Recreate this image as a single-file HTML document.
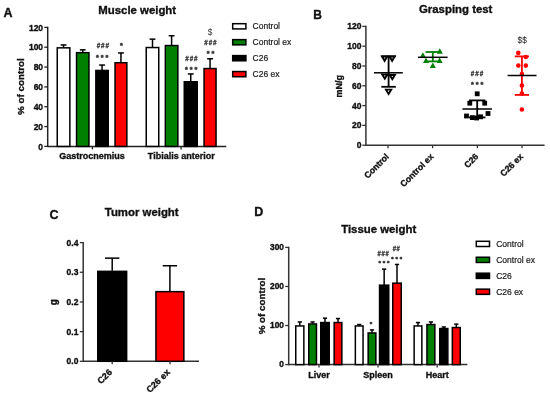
<!DOCTYPE html>
<html><head><meta charset="utf-8"><title>Figure</title>
<style>
html,body{margin:0;padding:0;background:#fff;}
body{width:550px;height:395px;overflow:hidden;}
svg{display:block;font-family:"Liberation Sans", Arial, sans-serif;filter:blur(0.45px);}
</style></head><body>
<svg width="550" height="395" viewBox="0 0 550 395">
<rect width="550" height="395" fill="#fff"/>
<text x="3.50" y="17.30" font-size="12.5" font-weight="bold" text-anchor="start" fill="#111" stroke="#111" stroke-width="0.35">A</text>
<text x="137.20" y="14.00" font-size="11.4" font-weight="bold" text-anchor="middle" fill="#111" stroke="#111" stroke-width="0.35">Muscle weight</text>
<line x1="47.70" y1="26.70" x2="47.70" y2="147.10" stroke="#222" stroke-width="1.5"/>
<line x1="44.30" y1="146.40" x2="47.70" y2="146.40" stroke="#222" stroke-width="1.3"/>
<text x="43.10" y="149.50" font-size="8.5" font-weight="bold" text-anchor="end" fill="#111" stroke="#111" stroke-width="0.35">0</text>
<line x1="44.30" y1="126.57" x2="47.70" y2="126.57" stroke="#222" stroke-width="1.3"/>
<text x="43.10" y="129.67" font-size="8.5" font-weight="bold" text-anchor="end" fill="#111" stroke="#111" stroke-width="0.35">20</text>
<line x1="44.30" y1="106.73" x2="47.70" y2="106.73" stroke="#222" stroke-width="1.3"/>
<text x="43.10" y="109.83" font-size="8.5" font-weight="bold" text-anchor="end" fill="#111" stroke="#111" stroke-width="0.35">40</text>
<line x1="44.30" y1="86.90" x2="47.70" y2="86.90" stroke="#222" stroke-width="1.3"/>
<text x="43.10" y="90.00" font-size="8.5" font-weight="bold" text-anchor="end" fill="#111" stroke="#111" stroke-width="0.35">60</text>
<line x1="44.30" y1="67.07" x2="47.70" y2="67.07" stroke="#222" stroke-width="1.3"/>
<text x="43.10" y="70.17" font-size="8.5" font-weight="bold" text-anchor="end" fill="#111" stroke="#111" stroke-width="0.35">80</text>
<line x1="44.30" y1="47.23" x2="47.70" y2="47.23" stroke="#222" stroke-width="1.3"/>
<text x="43.10" y="50.33" font-size="8.5" font-weight="bold" text-anchor="end" fill="#111" stroke="#111" stroke-width="0.35">100</text>
<line x1="44.30" y1="27.40" x2="47.70" y2="27.40" stroke="#222" stroke-width="1.3"/>
<text x="43.10" y="30.50" font-size="8.5" font-weight="bold" text-anchor="end" fill="#111" stroke="#111" stroke-width="0.35">120</text>
<text x="24.00" y="86.60" font-size="9.8" font-weight="bold" text-anchor="middle" fill="#111" stroke="#111" stroke-width="0.35" transform="rotate(-90 24.0 86.6)">% of control</text>
<line x1="47.70" y1="146.40" x2="226.30" y2="146.40" stroke="#222" stroke-width="1.5"/>
<line x1="92.40" y1="146.40" x2="92.40" y2="149.40" stroke="#222" stroke-width="1.3"/>
<line x1="181.10" y1="146.40" x2="181.10" y2="149.40" stroke="#222" stroke-width="1.3"/>
<text x="92.00" y="159.20" font-size="9" font-weight="bold" text-anchor="middle" fill="#111" stroke="#111" stroke-width="0.35">Gastrocnemius</text>
<text x="181.30" y="159.20" font-size="9" font-weight="bold" text-anchor="middle" fill="#111" stroke="#111" stroke-width="0.35">Tibialis anterior</text>
<line x1="63.55" y1="47.70" x2="63.55" y2="44.95" stroke="#000" stroke-width="1.5"/>
<line x1="60.65" y1="44.95" x2="66.45" y2="44.95" stroke="#000" stroke-width="1.5"/>
<rect x="57.25" y="47.85" width="12.60" height="98.55" fill="#fff" stroke="#000" stroke-width="1.5"/>
<line x1="82.75" y1="52.50" x2="82.75" y2="49.85" stroke="#000" stroke-width="1.5"/>
<line x1="79.85" y1="49.85" x2="85.65" y2="49.85" stroke="#000" stroke-width="1.5"/>
<rect x="76.55" y="52.65" width="12.40" height="93.75" fill="#008000" stroke="#000" stroke-width="1.5"/>
<line x1="102.05" y1="70.30" x2="102.05" y2="65.05" stroke="#000" stroke-width="1.5"/>
<line x1="99.15" y1="65.05" x2="104.95" y2="65.05" stroke="#000" stroke-width="1.5"/>
<rect x="95.85" y="70.45" width="12.40" height="75.95" fill="#000" stroke="#000" stroke-width="1.5"/>
<line x1="120.95" y1="62.60" x2="120.95" y2="52.95" stroke="#000" stroke-width="1.5"/>
<line x1="118.05" y1="52.95" x2="123.85" y2="52.95" stroke="#000" stroke-width="1.5"/>
<rect x="115.05" y="62.75" width="11.80" height="83.65" fill="#ff0000" stroke="#000" stroke-width="1.5"/>
<line x1="152.50" y1="47.40" x2="152.50" y2="39.15" stroke="#000" stroke-width="1.5"/>
<line x1="149.60" y1="39.15" x2="155.40" y2="39.15" stroke="#000" stroke-width="1.5"/>
<rect x="146.25" y="47.55" width="12.50" height="98.85" fill="#fff" stroke="#000" stroke-width="1.5"/>
<line x1="171.60" y1="45.40" x2="171.60" y2="35.75" stroke="#000" stroke-width="1.5"/>
<line x1="168.70" y1="35.75" x2="174.50" y2="35.75" stroke="#000" stroke-width="1.5"/>
<rect x="165.35" y="45.55" width="12.50" height="100.85" fill="#008000" stroke="#000" stroke-width="1.5"/>
<line x1="190.75" y1="81.60" x2="190.75" y2="73.95" stroke="#000" stroke-width="1.5"/>
<line x1="187.85" y1="73.95" x2="193.65" y2="73.95" stroke="#000" stroke-width="1.5"/>
<rect x="184.25" y="81.75" width="13.00" height="64.65" fill="#000" stroke="#000" stroke-width="1.5"/>
<line x1="210.05" y1="68.40" x2="210.05" y2="58.75" stroke="#000" stroke-width="1.5"/>
<line x1="207.15" y1="58.75" x2="212.95" y2="58.75" stroke="#000" stroke-width="1.5"/>
<rect x="204.05" y="68.55" width="12.00" height="77.85" fill="#ff0000" stroke="#000" stroke-width="1.5"/>
<text x="0" y="0" font-size="7.8" font-weight="bold" text-anchor="middle" fill="#222" stroke="#222" stroke-width="0.25" transform="translate(98.40 48.10) scale(0.8 1)">#</text>
<text x="0" y="0" font-size="7.8" font-weight="bold" text-anchor="middle" fill="#222" stroke="#222" stroke-width="0.25" transform="translate(102.80 48.10) scale(0.8 1)">#</text>
<text x="0" y="0" font-size="7.8" font-weight="bold" text-anchor="middle" fill="#222" stroke="#222" stroke-width="0.25" transform="translate(107.20 48.10) scale(0.8 1)">#</text>
<text x="97.40" y="60.27" font-size="7.2" font-weight="bold" text-anchor="middle" fill="#333" stroke="#333" stroke-width="0.45">*</text>
<text x="102.10" y="60.27" font-size="7.2" font-weight="bold" text-anchor="middle" fill="#333" stroke="#333" stroke-width="0.45">*</text>
<text x="106.80" y="60.27" font-size="7.2" font-weight="bold" text-anchor="middle" fill="#333" stroke="#333" stroke-width="0.45">*</text>
<text x="121.50" y="48.07" font-size="7.2" font-weight="bold" text-anchor="middle" fill="#333" stroke="#333" stroke-width="0.45">*</text>
<text x="0" y="0" font-size="7.8" font-weight="bold" text-anchor="middle" fill="#222" stroke="#222" stroke-width="0.25" transform="translate(187.00 60.90) scale(0.8 1)">#</text>
<text x="0" y="0" font-size="7.8" font-weight="bold" text-anchor="middle" fill="#222" stroke="#222" stroke-width="0.25" transform="translate(191.40 60.90) scale(0.8 1)">#</text>
<text x="0" y="0" font-size="7.8" font-weight="bold" text-anchor="middle" fill="#222" stroke="#222" stroke-width="0.25" transform="translate(195.80 60.90) scale(0.8 1)">#</text>
<text x="186.40" y="71.77" font-size="7.2" font-weight="bold" text-anchor="middle" fill="#333" stroke="#333" stroke-width="0.45">*</text>
<text x="191.10" y="71.77" font-size="7.2" font-weight="bold" text-anchor="middle" fill="#333" stroke="#333" stroke-width="0.45">*</text>
<text x="195.80" y="71.77" font-size="7.2" font-weight="bold" text-anchor="middle" fill="#333" stroke="#333" stroke-width="0.45">*</text>
<text x="210.10" y="34.80" font-size="8.4" font-weight="normal" text-anchor="middle" fill="#333">$</text>
<text x="0" y="0" font-size="7.8" font-weight="bold" text-anchor="middle" fill="#222" stroke="#222" stroke-width="0.25" transform="translate(206.00 45.00) scale(0.8 1)">#</text>
<text x="0" y="0" font-size="7.8" font-weight="bold" text-anchor="middle" fill="#222" stroke="#222" stroke-width="0.25" transform="translate(210.40 45.00) scale(0.8 1)">#</text>
<text x="0" y="0" font-size="7.8" font-weight="bold" text-anchor="middle" fill="#222" stroke="#222" stroke-width="0.25" transform="translate(214.80 45.00) scale(0.8 1)">#</text>
<text x="208.10" y="56.17" font-size="7.2" font-weight="bold" text-anchor="middle" fill="#333" stroke="#333" stroke-width="0.45">*</text>
<text x="212.80" y="56.17" font-size="7.2" font-weight="bold" text-anchor="middle" fill="#333" stroke="#333" stroke-width="0.45">*</text>
<rect x="232.70" y="23.70" width="13.2" height="5.2" fill="#fff" stroke="#000" stroke-width="1.5"/>
<text x="252.60" y="29.40" font-size="8.5" font-weight="normal" text-anchor="start" fill="#1a1a1a" stroke="#1a1a1a" stroke-width="0.2">Control</text>
<rect x="232.70" y="39.65" width="13.2" height="5.2" fill="#008000" stroke="#000" stroke-width="1.5"/>
<text x="252.60" y="45.35" font-size="8.5" font-weight="normal" text-anchor="start" fill="#1a1a1a" stroke="#1a1a1a" stroke-width="0.2">Control ex</text>
<rect x="232.70" y="55.60" width="13.2" height="5.2" fill="#000" stroke="#000" stroke-width="1.5"/>
<text x="252.60" y="61.30" font-size="8.5" font-weight="normal" text-anchor="start" fill="#1a1a1a" stroke="#1a1a1a" stroke-width="0.2">C26</text>
<rect x="232.70" y="71.55" width="13.2" height="5.2" fill="#ff0000" stroke="#000" stroke-width="1.5"/>
<text x="252.60" y="77.25" font-size="8.5" font-weight="normal" text-anchor="start" fill="#1a1a1a" stroke="#1a1a1a" stroke-width="0.2">C26 ex</text>
<text x="313.30" y="19.00" font-size="12.0" font-weight="bold" text-anchor="start" fill="#111" stroke="#111" stroke-width="0.35">B</text>
<text x="455.70" y="12.50" font-size="11.4" font-weight="bold" text-anchor="middle" fill="#111" stroke="#111" stroke-width="0.35">Grasping test</text>
<line x1="365.90" y1="25.70" x2="365.90" y2="145.90" stroke="#333" stroke-width="1.5"/>
<line x1="362.30" y1="145.20" x2="365.90" y2="145.20" stroke="#333" stroke-width="1.3"/>
<text x="361.40" y="148.20" font-size="8.5" font-weight="bold" text-anchor="end" fill="#111" stroke="#111" stroke-width="0.35">0</text>
<line x1="362.30" y1="125.40" x2="365.90" y2="125.40" stroke="#333" stroke-width="1.3"/>
<text x="361.40" y="128.40" font-size="8.5" font-weight="bold" text-anchor="end" fill="#111" stroke="#111" stroke-width="0.35">20</text>
<line x1="362.30" y1="105.60" x2="365.90" y2="105.60" stroke="#333" stroke-width="1.3"/>
<text x="361.40" y="108.60" font-size="8.5" font-weight="bold" text-anchor="end" fill="#111" stroke="#111" stroke-width="0.35">40</text>
<line x1="362.30" y1="85.80" x2="365.90" y2="85.80" stroke="#333" stroke-width="1.3"/>
<text x="361.40" y="88.80" font-size="8.5" font-weight="bold" text-anchor="end" fill="#111" stroke="#111" stroke-width="0.35">60</text>
<line x1="362.30" y1="66.00" x2="365.90" y2="66.00" stroke="#333" stroke-width="1.3"/>
<text x="361.40" y="69.00" font-size="8.5" font-weight="bold" text-anchor="end" fill="#111" stroke="#111" stroke-width="0.35">80</text>
<line x1="362.30" y1="46.20" x2="365.90" y2="46.20" stroke="#333" stroke-width="1.3"/>
<text x="361.40" y="49.20" font-size="8.5" font-weight="bold" text-anchor="end" fill="#111" stroke="#111" stroke-width="0.35">100</text>
<line x1="362.30" y1="26.40" x2="365.90" y2="26.40" stroke="#333" stroke-width="1.3"/>
<text x="361.40" y="29.40" font-size="8.5" font-weight="bold" text-anchor="end" fill="#111" stroke="#111" stroke-width="0.35">120</text>
<text x="342.30" y="86.30" font-size="9" font-weight="bold" text-anchor="middle" fill="#111" stroke="#111" stroke-width="0.35" transform="rotate(-90 342.3 86.3)">mN/g</text>
<line x1="365.90" y1="145.20" x2="544.60" y2="145.20" stroke="#333" stroke-width="1.5"/>
<line x1="388.00" y1="145.20" x2="388.00" y2="148.20" stroke="#333" stroke-width="1.3"/>
<text x="389.60" y="157.20" font-size="8.7" font-weight="bold" text-anchor="end" fill="#111" stroke="#111" stroke-width="0.35" transform="rotate(-45 389.6 157.2)">Control</text>
<line x1="432.60" y1="145.20" x2="432.60" y2="148.20" stroke="#333" stroke-width="1.3"/>
<text x="434.20" y="157.20" font-size="8.7" font-weight="bold" text-anchor="end" fill="#111" stroke="#111" stroke-width="0.35" transform="rotate(-45 434.20000000000005 157.2)">Control ex</text>
<line x1="477.40" y1="145.20" x2="477.40" y2="148.20" stroke="#333" stroke-width="1.3"/>
<text x="479.00" y="157.20" font-size="8.7" font-weight="bold" text-anchor="end" fill="#111" stroke="#111" stroke-width="0.35" transform="rotate(-45 479.0 157.2)">C26</text>
<line x1="522.00" y1="145.20" x2="522.00" y2="148.20" stroke="#333" stroke-width="1.3"/>
<text x="523.60" y="157.20" font-size="8.7" font-weight="bold" text-anchor="end" fill="#111" stroke="#111" stroke-width="0.35" transform="rotate(-45 523.6 157.2)">C26 ex</text>
<line x1="388.60" y1="56.30" x2="388.60" y2="86.80" stroke="#000" stroke-width="1.8"/>
<line x1="381.35" y1="56.30" x2="395.85" y2="56.30" stroke="#000" stroke-width="1.8"/>
<line x1="381.35" y1="86.80" x2="395.85" y2="86.80" stroke="#000" stroke-width="1.8"/>
<polygon points="382.00,56.57 387.20,56.57 384.60,60.83" fill="#fff" stroke="#000" stroke-width="1.9" stroke-linejoin="miter"/>
<polygon points="389.50,56.57 394.70,56.57 392.10,60.83" fill="#fff" stroke="#000" stroke-width="1.9" stroke-linejoin="miter"/>
<polygon points="382.20,74.47 387.40,74.47 384.80,78.73" fill="#fff" stroke="#000" stroke-width="1.9" stroke-linejoin="miter"/>
<polygon points="389.70,74.97 394.90,74.97 392.30,79.23" fill="#fff" stroke="#000" stroke-width="1.9" stroke-linejoin="miter"/>
<polygon points="386.00,89.67 391.20,89.67 388.60,93.93" fill="#fff" stroke="#000" stroke-width="1.9" stroke-linejoin="miter"/>
<line x1="374.00" y1="72.80" x2="402.80" y2="72.80" stroke="#000" stroke-width="1.5"/>
<line x1="432.80" y1="52.00" x2="432.80" y2="61.40" stroke="#008000" stroke-width="1.8"/>
<line x1="425.55" y1="52.00" x2="440.05" y2="52.00" stroke="#008000" stroke-width="1.8"/>
<line x1="425.55" y1="61.40" x2="440.05" y2="61.40" stroke="#008000" stroke-width="1.8"/>
<polygon points="419.90,57.70 425.90,57.70 422.90,52.30" fill="#008000"/>
<polygon points="436.80,53.70 442.80,53.70 439.80,48.30" fill="#008000"/>
<polygon points="423.00,63.00 429.00,63.00 426.00,57.60" fill="#008000"/>
<polygon points="436.60,63.00 442.60,63.00 439.60,57.60" fill="#008000"/>
<polygon points="429.80,68.00 435.80,68.00 432.80,62.60" fill="#008000"/>
<line x1="418.00" y1="57.30" x2="447.60" y2="57.30" stroke="#000" stroke-width="1.5"/>
<line x1="477.20" y1="100.40" x2="477.20" y2="117.40" stroke="#000" stroke-width="1.8"/>
<line x1="468.95" y1="100.40" x2="485.45" y2="100.40" stroke="#000" stroke-width="1.8"/>
<line x1="468.95" y1="117.40" x2="485.45" y2="117.40" stroke="#000" stroke-width="1.8"/>
<rect x="474.80" y="91.40" width="4.8" height="4.8" fill="#000"/>
<rect x="467.40" y="100.80" width="4.8" height="4.8" fill="#000"/>
<rect x="482.30" y="100.80" width="4.8" height="4.8" fill="#000"/>
<rect x="464.10" y="113.60" width="4.8" height="4.8" fill="#000"/>
<rect x="469.90" y="115.20" width="4.8" height="4.8" fill="#000"/>
<rect x="474.20" y="115.60" width="4.8" height="4.8" fill="#000"/>
<rect x="478.20" y="114.40" width="4.8" height="4.8" fill="#000"/>
<rect x="485.60" y="111.10" width="4.8" height="4.8" fill="#000"/>
<line x1="462.40" y1="109.00" x2="492.00" y2="109.00" stroke="#000" stroke-width="1.5"/>
<text x="0" y="0" font-size="7.8" font-weight="bold" text-anchor="middle" fill="#222" stroke="#222" stroke-width="0.25" transform="translate(472.60 75.50) scale(0.8 1)">#</text>
<text x="0" y="0" font-size="7.8" font-weight="bold" text-anchor="middle" fill="#222" stroke="#222" stroke-width="0.25" transform="translate(477.00 75.50) scale(0.8 1)">#</text>
<text x="0" y="0" font-size="7.8" font-weight="bold" text-anchor="middle" fill="#222" stroke="#222" stroke-width="0.25" transform="translate(481.40 75.50) scale(0.8 1)">#</text>
<text x="472.40" y="87.07" font-size="7.2" font-weight="bold" text-anchor="middle" fill="#333" stroke="#333" stroke-width="0.45">*</text>
<text x="477.10" y="87.07" font-size="7.2" font-weight="bold" text-anchor="middle" fill="#333" stroke="#333" stroke-width="0.45">*</text>
<text x="481.80" y="87.07" font-size="7.2" font-weight="bold" text-anchor="middle" fill="#333" stroke="#333" stroke-width="0.45">*</text>
<line x1="521.90" y1="56.40" x2="521.90" y2="94.90" stroke="#ff0000" stroke-width="1.8"/>
<line x1="514.80" y1="56.40" x2="529.00" y2="56.40" stroke="#ff0000" stroke-width="1.8"/>
<line x1="514.80" y1="94.90" x2="529.00" y2="94.90" stroke="#ff0000" stroke-width="1.8"/>
<circle cx="518.30" cy="52.90" r="2.3" fill="#ff0000"/>
<circle cx="525.80" cy="57.00" r="2.3" fill="#ff0000"/>
<circle cx="518.30" cy="65.60" r="2.3" fill="#ff0000"/>
<circle cx="525.80" cy="65.60" r="2.3" fill="#ff0000"/>
<circle cx="521.90" cy="74.10" r="2.3" fill="#ff0000"/>
<circle cx="521.90" cy="85.50" r="2.3" fill="#ff0000"/>
<circle cx="521.90" cy="93.50" r="2.3" fill="#ff0000"/>
<circle cx="521.90" cy="109.50" r="2.3" fill="#ff0000"/>
<line x1="507.60" y1="75.50" x2="536.50" y2="75.50" stroke="#000" stroke-width="1.5"/>
<text x="522.20" y="43.00" font-size="8.3" font-weight="normal" text-anchor="middle" fill="#333" stroke="#333" stroke-width="0.1">$$</text>
<text x="49.60" y="219.40" font-size="12.5" font-weight="bold" text-anchor="start" fill="#111" stroke="#111" stroke-width="0.35">C</text>
<text x="141.70" y="216.40" font-size="11.4" font-weight="bold" text-anchor="middle" fill="#111" stroke="#111" stroke-width="0.35">Tumor weight</text>
<line x1="83.20" y1="241.90" x2="83.20" y2="362.00" stroke="#333" stroke-width="1.5"/>
<line x1="79.80" y1="361.30" x2="83.20" y2="361.30" stroke="#333" stroke-width="1.3"/>
<text x="78.40" y="364.40" font-size="8.5" font-weight="bold" text-anchor="end" fill="#111" stroke="#111" stroke-width="0.35">0.0</text>
<line x1="79.80" y1="331.62" x2="83.20" y2="331.62" stroke="#333" stroke-width="1.3"/>
<text x="78.40" y="334.73" font-size="8.5" font-weight="bold" text-anchor="end" fill="#111" stroke="#111" stroke-width="0.35">0.1</text>
<line x1="79.80" y1="301.95" x2="83.20" y2="301.95" stroke="#333" stroke-width="1.3"/>
<text x="78.40" y="305.05" font-size="8.5" font-weight="bold" text-anchor="end" fill="#111" stroke="#111" stroke-width="0.35">0.2</text>
<line x1="79.80" y1="272.27" x2="83.20" y2="272.27" stroke="#333" stroke-width="1.3"/>
<text x="78.40" y="275.38" font-size="8.5" font-weight="bold" text-anchor="end" fill="#111" stroke="#111" stroke-width="0.35">0.3</text>
<line x1="79.80" y1="242.60" x2="83.20" y2="242.60" stroke="#333" stroke-width="1.3"/>
<text x="78.40" y="245.70" font-size="8.5" font-weight="bold" text-anchor="end" fill="#111" stroke="#111" stroke-width="0.35">0.4</text>
<text x="57.40" y="302.30" font-size="10" font-weight="bold" text-anchor="middle" fill="#111" stroke="#111" stroke-width="0.35" transform="rotate(-90 57.4 302.3)">g</text>
<line x1="83.20" y1="361.30" x2="199.00" y2="361.30" stroke="#333" stroke-width="1.5"/>
<line x1="112.20" y1="270.70" x2="112.20" y2="258.15" stroke="#000" stroke-width="1.5"/>
<line x1="105.00" y1="258.15" x2="119.40" y2="258.15" stroke="#000" stroke-width="1.5"/>
<rect x="97.75" y="271.35" width="28.90" height="89.95" fill="#000" stroke="#000" stroke-width="1.5"/>
<line x1="169.90" y1="291.00" x2="169.90" y2="265.75" stroke="#000" stroke-width="1.5"/>
<line x1="162.70" y1="265.75" x2="177.10" y2="265.75" stroke="#000" stroke-width="1.5"/>
<rect x="155.95" y="291.65" width="27.90" height="69.65" fill="#ff0000" stroke="#000" stroke-width="1.5"/>
<line x1="112.20" y1="361.30" x2="112.20" y2="364.30" stroke="#333" stroke-width="1.3"/>
<text x="112.70" y="372.80" font-size="9" font-weight="bold" text-anchor="end" fill="#111" stroke="#111" stroke-width="0.35" transform="rotate(-45 112.7 372.8)">C26</text>
<line x1="170.00" y1="361.30" x2="170.00" y2="364.30" stroke="#333" stroke-width="1.3"/>
<text x="170.50" y="372.80" font-size="9" font-weight="bold" text-anchor="end" fill="#111" stroke="#111" stroke-width="0.35" transform="rotate(-45 170.5 372.8)">C26 ex</text>
<text x="254.20" y="216.20" font-size="12.5" font-weight="bold" text-anchor="start" fill="#111" stroke="#111" stroke-width="0.35">D</text>
<text x="378.70" y="232.60" font-size="11.4" font-weight="bold" text-anchor="middle" fill="#111" stroke="#111" stroke-width="0.35">Tissue weight</text>
<line x1="288.70" y1="246.70" x2="288.70" y2="365.30" stroke="#333" stroke-width="1.5"/>
<line x1="285.20" y1="364.60" x2="288.70" y2="364.60" stroke="#333" stroke-width="1.3"/>
<text x="284.00" y="367.30" font-size="8.4" font-weight="bold" text-anchor="end" fill="#111" stroke="#111" stroke-width="0.35">0</text>
<line x1="285.20" y1="325.53" x2="288.70" y2="325.53" stroke="#333" stroke-width="1.3"/>
<text x="284.00" y="328.23" font-size="8.4" font-weight="bold" text-anchor="end" fill="#111" stroke="#111" stroke-width="0.35">100</text>
<line x1="285.20" y1="286.47" x2="288.70" y2="286.47" stroke="#333" stroke-width="1.3"/>
<text x="284.00" y="289.17" font-size="8.4" font-weight="bold" text-anchor="end" fill="#111" stroke="#111" stroke-width="0.35">200</text>
<line x1="285.20" y1="247.40" x2="288.70" y2="247.40" stroke="#333" stroke-width="1.3"/>
<text x="284.00" y="250.10" font-size="8.4" font-weight="bold" text-anchor="end" fill="#111" stroke="#111" stroke-width="0.35">300</text>
<text x="265.00" y="306.00" font-size="9.8" font-weight="bold" text-anchor="middle" fill="#111" stroke="#111" stroke-width="0.35" transform="rotate(-90 265.0 306.0)">% of control</text>
<line x1="288.70" y1="364.60" x2="467.40" y2="364.60" stroke="#333" stroke-width="1.5"/>
<line x1="319.00" y1="364.60" x2="319.00" y2="367.60" stroke="#333" stroke-width="1.3"/>
<text x="319.00" y="377.80" font-size="9" font-weight="bold" text-anchor="middle" fill="#111" stroke="#111" stroke-width="0.35">Liver</text>
<line x1="378.00" y1="364.60" x2="378.00" y2="367.60" stroke="#333" stroke-width="1.3"/>
<text x="378.00" y="377.80" font-size="9" font-weight="bold" text-anchor="middle" fill="#111" stroke="#111" stroke-width="0.35">Spleen</text>
<line x1="437.20" y1="364.60" x2="437.20" y2="367.60" stroke="#333" stroke-width="1.3"/>
<text x="437.20" y="377.80" font-size="9" font-weight="bold" text-anchor="middle" fill="#111" stroke="#111" stroke-width="0.35">Heart</text>
<line x1="299.80" y1="325.80" x2="299.80" y2="321.95" stroke="#000" stroke-width="1.5"/>
<line x1="297.70" y1="321.95" x2="301.90" y2="321.95" stroke="#000" stroke-width="1.5"/>
<rect x="295.75" y="325.95" width="8.10" height="38.65" fill="#fff" stroke="#000" stroke-width="1.5"/>
<line x1="312.60" y1="323.80" x2="312.60" y2="321.95" stroke="#000" stroke-width="1.5"/>
<line x1="310.50" y1="321.95" x2="314.70" y2="321.95" stroke="#000" stroke-width="1.5"/>
<rect x="308.75" y="323.95" width="7.70" height="40.65" fill="#008000" stroke="#000" stroke-width="1.5"/>
<line x1="325.00" y1="322.40" x2="325.00" y2="318.15" stroke="#000" stroke-width="1.5"/>
<line x1="322.90" y1="318.15" x2="327.10" y2="318.15" stroke="#000" stroke-width="1.5"/>
<rect x="320.75" y="322.55" width="8.50" height="42.05" fill="#000" stroke="#000" stroke-width="1.5"/>
<line x1="338.00" y1="322.40" x2="338.00" y2="318.55" stroke="#000" stroke-width="1.5"/>
<line x1="335.90" y1="318.55" x2="340.10" y2="318.55" stroke="#000" stroke-width="1.5"/>
<rect x="334.15" y="322.55" width="7.70" height="42.05" fill="#ff0000" stroke="#000" stroke-width="1.5"/>
<line x1="359.20" y1="325.80" x2="359.20" y2="324.55" stroke="#000" stroke-width="1.5"/>
<line x1="357.10" y1="324.55" x2="361.30" y2="324.55" stroke="#000" stroke-width="1.5"/>
<rect x="355.35" y="325.95" width="7.70" height="38.65" fill="#fff" stroke="#000" stroke-width="1.5"/>
<line x1="372.00" y1="332.80" x2="372.00" y2="329.95" stroke="#000" stroke-width="1.5"/>
<line x1="369.90" y1="329.95" x2="374.10" y2="329.95" stroke="#000" stroke-width="1.5"/>
<rect x="368.15" y="332.95" width="7.70" height="31.65" fill="#008000" stroke="#000" stroke-width="1.5"/>
<line x1="384.15" y1="285.00" x2="384.15" y2="269.15" stroke="#000" stroke-width="1.5"/>
<line x1="382.05" y1="269.15" x2="386.25" y2="269.15" stroke="#000" stroke-width="1.5"/>
<rect x="379.55" y="285.15" width="9.20" height="79.45" fill="#000" stroke="#000" stroke-width="1.5"/>
<line x1="397.00" y1="283.00" x2="397.00" y2="264.45" stroke="#000" stroke-width="1.5"/>
<line x1="394.90" y1="264.45" x2="399.10" y2="264.45" stroke="#000" stroke-width="1.5"/>
<rect x="392.75" y="283.15" width="8.50" height="81.45" fill="#ff0000" stroke="#000" stroke-width="1.5"/>
<line x1="418.00" y1="325.80" x2="418.00" y2="322.55" stroke="#000" stroke-width="1.5"/>
<line x1="415.90" y1="322.55" x2="420.10" y2="322.55" stroke="#000" stroke-width="1.5"/>
<rect x="414.15" y="325.95" width="7.70" height="38.65" fill="#fff" stroke="#000" stroke-width="1.5"/>
<line x1="430.90" y1="324.40" x2="430.90" y2="321.95" stroke="#000" stroke-width="1.5"/>
<line x1="428.80" y1="321.95" x2="433.00" y2="321.95" stroke="#000" stroke-width="1.5"/>
<rect x="426.95" y="324.55" width="7.90" height="40.05" fill="#008000" stroke="#000" stroke-width="1.5"/>
<line x1="443.80" y1="328.40" x2="443.80" y2="326.95" stroke="#000" stroke-width="1.5"/>
<line x1="441.70" y1="326.95" x2="445.90" y2="326.95" stroke="#000" stroke-width="1.5"/>
<rect x="439.75" y="328.55" width="8.10" height="36.05" fill="#000" stroke="#000" stroke-width="1.5"/>
<line x1="456.30" y1="327.40" x2="456.30" y2="324.15" stroke="#000" stroke-width="1.5"/>
<line x1="454.20" y1="324.15" x2="458.40" y2="324.15" stroke="#000" stroke-width="1.5"/>
<rect x="452.35" y="327.55" width="7.90" height="37.05" fill="#ff0000" stroke="#000" stroke-width="1.5"/>
<text x="371.00" y="325.90" font-size="6.2" font-weight="bold" text-anchor="middle" fill="#333" stroke="#333" stroke-width="0.45">*</text>
<text x="0" y="0" font-size="7.4" font-weight="bold" text-anchor="middle" fill="#222" stroke="#222" stroke-width="0.25" transform="translate(379.20 256.00) scale(0.8 1)">#</text>
<text x="0" y="0" font-size="7.4" font-weight="bold" text-anchor="middle" fill="#222" stroke="#222" stroke-width="0.25" transform="translate(383.20 256.00) scale(0.8 1)">#</text>
<text x="0" y="0" font-size="7.4" font-weight="bold" text-anchor="middle" fill="#222" stroke="#222" stroke-width="0.25" transform="translate(387.20 256.00) scale(0.8 1)">#</text>
<text x="379.70" y="265.40" font-size="6.2" font-weight="bold" text-anchor="middle" fill="#333" stroke="#333" stroke-width="0.45">*</text>
<text x="384.00" y="265.40" font-size="6.2" font-weight="bold" text-anchor="middle" fill="#333" stroke="#333" stroke-width="0.45">*</text>
<text x="388.30" y="265.40" font-size="6.2" font-weight="bold" text-anchor="middle" fill="#333" stroke="#333" stroke-width="0.45">*</text>
<text x="0" y="0" font-size="7.4" font-weight="bold" text-anchor="middle" fill="#222" stroke="#222" stroke-width="0.25" transform="translate(394.45 251.10) scale(0.8 1)">#</text>
<text x="0" y="0" font-size="7.4" font-weight="bold" text-anchor="middle" fill="#222" stroke="#222" stroke-width="0.25" transform="translate(398.15 251.10) scale(0.8 1)">#</text>
<text x="392.40" y="260.90" font-size="6.2" font-weight="bold" text-anchor="middle" fill="#333" stroke="#333" stroke-width="0.45">*</text>
<text x="396.70" y="260.90" font-size="6.2" font-weight="bold" text-anchor="middle" fill="#333" stroke="#333" stroke-width="0.45">*</text>
<text x="401.00" y="260.90" font-size="6.2" font-weight="bold" text-anchor="middle" fill="#333" stroke="#333" stroke-width="0.45">*</text>
<rect x="476.30" y="241.30" width="13.2" height="5.2" fill="#fff" stroke="#000" stroke-width="1.5"/>
<text x="496.20" y="247.00" font-size="8.5" font-weight="normal" text-anchor="start" fill="#1a1a1a" stroke="#1a1a1a" stroke-width="0.2">Control</text>
<rect x="476.30" y="257.25" width="13.2" height="5.2" fill="#008000" stroke="#000" stroke-width="1.5"/>
<text x="496.20" y="262.95" font-size="8.5" font-weight="normal" text-anchor="start" fill="#1a1a1a" stroke="#1a1a1a" stroke-width="0.2">Control ex</text>
<rect x="476.30" y="273.20" width="13.2" height="5.2" fill="#000" stroke="#000" stroke-width="1.5"/>
<text x="496.20" y="278.90" font-size="8.5" font-weight="normal" text-anchor="start" fill="#1a1a1a" stroke="#1a1a1a" stroke-width="0.2">C26</text>
<rect x="476.30" y="289.15" width="13.2" height="5.2" fill="#ff0000" stroke="#000" stroke-width="1.5"/>
<text x="496.20" y="294.85" font-size="8.5" font-weight="normal" text-anchor="start" fill="#1a1a1a" stroke="#1a1a1a" stroke-width="0.2">C26 ex</text>
</svg>
</body></html>
